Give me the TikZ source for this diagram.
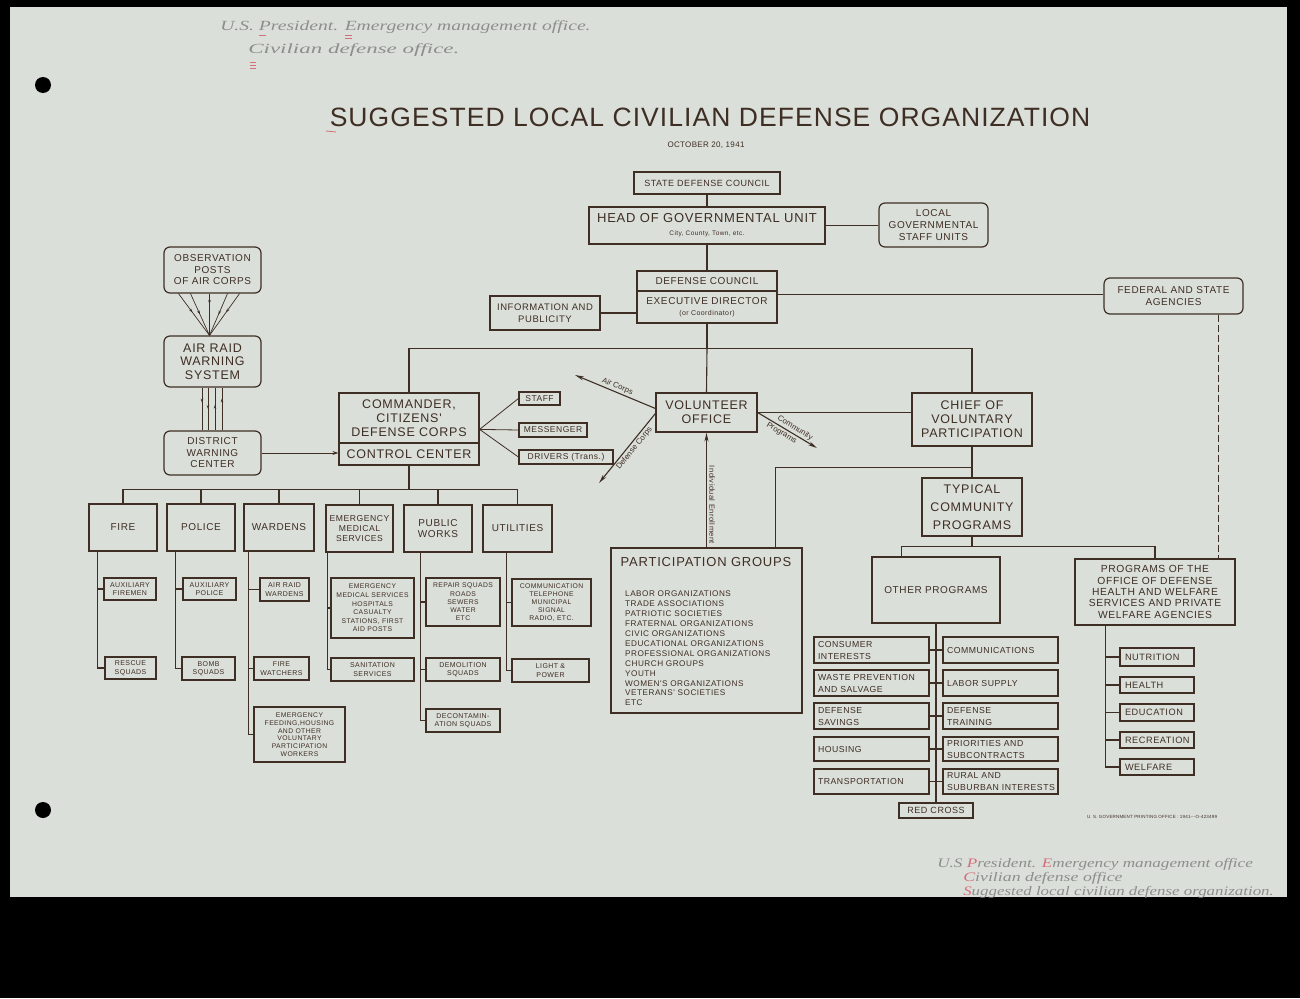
\documentclass[tikz,border=0pt]{standalone}
\usepackage{fontspec}
\setmainfont{Liberation Sans}
\newfontfamily\lett[LetterSpace=6]{Liberation Sans}
\newfontfamily\ttl[LetterSpace=4]{Liberation Sans}
\newfontfamily\plain{Liberation Sans}
\newfontfamily\hand{Liberation Serif}
\usetikzlibrary{arrows.meta,calc,decorations.markings}
\definecolor{paper}{RGB}{219,223,217}
\definecolor{ink}{RGB}{62,46,36}
\definecolor{pencil}{RGB}{140,142,140}
\definecolor{redpencil}{RGB}{214,110,122}
\newcommand{\fz}[2]{\lett\fontsize{#1}{#2}\selectfont}
\newcommand{\mybox}[7]{\node[#6, minimum width={#4-#2}, minimum height={#5-#3}] (#1) at ({(#2+#4)/2},{(#3+#5)/2}) {#7};}
\tikzset{
  box/.style={draw=ink, line width=1.2pt, fill=paper, inner sep=0pt, align=center, text=ink},
  rbox/.style={box, rounded corners=6pt},
  lbx/.style={box, align=left, inner xsep=4pt, text width=#1},
  ln/.style={draw=ink, line width=1.1pt},
  arr/.style={ln, -{Stealth[length=9pt,width=4pt]}},
  smallarr/.style={ln, -{Stealth[length=6pt,width=4pt]}},
  lbl/.style={text=ink, inner sep=1.5pt, font=\plain\fontsize{7.8}{8}\selectfont},
  midmark/.style={postaction={decorate}, decoration={markings, mark=at position #1 with {\arrow{Stealth[length=4pt,width=2.6pt]}}}},
  handw/.style={text=pencil, inner sep=0pt, anchor=west},
}
\begin{document}
\begin{tikzpicture}[x=1pt,y=-1pt]
\useasboundingbox (0,0) rectangle (1300,998);
\fill[black] (0,0) rectangle (1300,998);
\fill[paper] (10,7) rectangle (1287,897);
\fill[black] (43,85) circle (8);
\fill[black] (43,810) circle (8);

% handwriting
\node[handw, xscale=1.4, font=\hand\itshape\fontsize{14}{16}\selectfont] (hw1) at (220,27) {U.S. President. Emergency management office.};
\node[handw, xscale=1.64, font=\hand\itshape\fontsize{14}{16}\selectfont] (hw2) at (248,50) {Civilian defense office.};
\draw[redpencil, line width=0.8pt] (259,35) -- (266,35);
\draw[redpencil, line width=0.8pt] (345,35) -- (352,35) (345,38) -- (352,38);
\draw[redpencil, line width=0.8pt] (250,62) -- (256,62) (250,65) -- (256,65) (250,68) -- (256,68);
\node[handw, xscale=1.32, font=\hand\itshape\fontsize{13}{15}\selectfont] (hw3) at (937,864) {U.S \textcolor{redpencil}{P}resident. \textcolor{redpencil}{E}mergency management office};
\node[handw, xscale=1.37, font=\hand\itshape\fontsize{13}{15}\selectfont] (hw4) at (963,878) {\textcolor{redpencil}{C}ivilian defense office};
\node[handw, xscale=1.3, font=\hand\itshape\fontsize{13}{15}\selectfont] (hw5) at (963,892) {\textcolor{redpencil}{S}uggested local civilian defense organization.};

% title
\node[text=ink, inner sep=0pt, font=\ttl\fontsize{26.5}{30}\selectfont] (title) at (710,117) {SUGGESTED LOCAL CIVILIAN DEFENSE ORGANIZATION};
\draw[redpencil, line width=0.8pt] (326,131) -- (336,132);
\node[text=ink, inner sep=0pt, font=\ttl\fontsize{8}{9}\selectfont] (date) at (706,145) {OCTOBER 20, 1941};
\node[text=ink, inner sep=0pt, font=\ttl\fontsize{4.5}{5}\selectfont] (footer) at (1152,817) {U. S. GOVERNMENT PRINTING OFFICE : 1941---O-423499};

% top chain
\mybox{state}{634}{172}{780}{194}{box, font=\fz{9}{11}}{STATE DEFENSE COUNCIL}
\mybox{head}{589}{207}{825}{244}{box, font=\fz{13}{14}}{HEAD OF GOVERNMENTAL UNIT\\[-1pt]{\fz{6.5}{8}City, County, Town, etc.}}
\mybox{local}{879}{203}{988}{247}{rbox, font=\fz{10}{12}}{LOCAL\\GOVERNMENTAL\\STAFF UNITS}
\mybox{dc}{637}{271}{777}{291}{box, font=\fz{10}{12}}{DEFENSE COUNCIL}
\mybox{exec}{637}{291}{777}{323}{box, font=\fz{10}{11}}{EXECUTIVE DIRECTOR\\{\fz{7}{9}(or Coordinator)}}
\mybox{info}{490}{296}{600}{330}{box, font=\fz{9.5}{12}}{INFORMATION AND\\PUBLICITY}
\mybox{fed}{1104}{278}{1243}{314}{rbox, font=\fz{10}{12.5}}{FEDERAL AND STATE\\AGENCIES}

% left warning column
\mybox{obs}{164}{247}{261}{293}{rbox, font=\fz{10}{11.5}}{OBSERVATION\\POSTS\\OF AIR CORPS}
\mybox{air}{164}{336}{261}{387}{rbox, font=\fz{12.5}{13.5}}{AIR RAID\\WARNING\\SYSTEM}
\mybox{dist}{164}{431}{261}{475}{rbox, font=\fz{10}{11.5}}{DISTRICT\\WARNING\\CENTER}

% middle row
\mybox{cmdr}{339}{393}{479}{443}{box, font=\fz{12.5}{14}}{COMMANDER,\\CITIZENS'\\DEFENSE CORPS}
\mybox{ctrl}{339}{443}{479}{465}{box, font=\fz{12.5}{14}}{CONTROL CENTER}
\mybox{staff}{519}{392}{560}{405}{box, font=\fz{8.5}{10}}{STAFF}
\mybox{mess}{519}{423}{587}{437}{box, font=\fz{8.5}{10}}{MESSENGER}
\mybox{drv}{519}{450}{613}{464}{box, font=\fz{8.5}{10}}{DRIVERS (Trans.)}
\mybox{vol}{656}{393}{757}{432}{box, font=\fz{12.5}{14}}{VOLUNTEER\\OFFICE}
\mybox{chief}{912}{393}{1032}{446}{box, font=\fz{12.5}{14}}{CHIEF OF\\VOLUNTARY\\PARTICIPATION}
\mybox{typ}{922}{478}{1022}{536}{box, font=\fz{12.5}{18}}{TYPICAL\\COMMUNITY\\PROGRAMS}

% services row
\mybox{fire}{89}{504}{157}{551}{box, font=\fz{10}{12}}{FIRE}
\mybox{police}{167}{504}{235}{551}{box, font=\fz{10}{12}}{POLICE}
\mybox{wardens}{244}{504}{314}{551}{box, font=\fz{10}{12}}{WARDENS}
\mybox{ems}{326}{505}{393}{552}{box, font=\fz{8.6}{10}}{EMERGENCY\\MEDICAL\\SERVICES}
\mybox{pw}{404}{505}{472}{552}{box, font=\fz{10}{11.5}}{PUBLIC\\WORKS}
\mybox{util}{483}{505}{552}{552}{box, font=\fz{10}{12}}{UTILITIES}

% sub boxes
\mybox{auxf}{104}{578}{156}{600}{box, font=\fz{7}{8.5}}{AUXILIARY\\FIREMEN}
\mybox{rescue}{105}{657}{156}{679}{box, font=\fz{7}{8.5}}{RESCUE\\SQUADS}
\mybox{auxp}{183}{578}{236}{600}{box, font=\fz{7}{8.5}}{AUXILIARY\\POLICE}
\mybox{bomb}{182}{657}{235}{680}{box, font=\fz{7}{8.5}}{BOMB\\SQUADS}
\mybox{arw}{260}{578}{309}{601}{box, font=\fz{7}{8.5}}{AIR RAID\\WARDENS}
\mybox{firew}{254}{657}{309}{680}{box, font=\fz{7}{8.5}}{FIRE\\WATCHERS}
\mybox{feed}{254}{707}{345}{762}{box, font=\fz{6.8}{7.7}}{EMERGENCY\\FEEDING,HOUSING\\AND OTHER\\VOLUNTARY\\PARTICIPATION\\WORKERS}
\mybox{emsub}{331}{578}{414}{638}{box, font=\fz{6.8}{8.6}}{EMERGENCY\\MEDICAL SERVICES\\HOSPITALS\\CASUALTY\\STATIONS, FIRST\\AID POSTS}
\mybox{sanit}{331}{658}{414}{681}{box, font=\fz{7}{8.5}}{SANITATION\\SERVICES}
\mybox{repair}{426}{578}{500}{626}{box, font=\fz{6.8}{8.2}}{REPAIR SQUADS\\ROADS\\SEWERS\\WATER\\ETC}
\mybox{demol}{426}{658}{500}{681}{box, font=\fz{7}{8.5}}{DEMOLITION\\SQUADS}
\mybox{decon}{426}{709}{500}{732}{box, font=\fz{7}{8.5}}{DECONTAMIN-\\ATION SQUADS}
\mybox{commu}{512}{579}{591}{626}{box, font=\fz{6.8}{8.2}}{COMMUNICATION\\TELEPHONE\\MUNICIPAL\\SIGNAL\\RADIO, ETC.}
\mybox{light}{512}{659}{589}{682}{box, font=\fz{7}{8.5}}{LIGHT \&\\POWER}

% participation groups
\mybox{part}{611}{548}{802}{713}{box}{}
\node[text=ink, inner sep=0pt, font=\fz{13}{15}] (ptitle) at (706,562) {PARTICIPATION GROUPS};
\node[text=ink, inner sep=0pt, anchor=north west, align=left, font=\fz{8.2}{9.9}] (plist) at (625,591) {LABOR ORGANIZATIONS\\TRADE ASSOCIATIONS\\PATRIOTIC SOCIETIES\\FRATERNAL ORGANIZATIONS\\CIVIC ORGANIZATIONS\\EDUCATIONAL ORGANIZATIONS\\PROFESSIONAL ORGANIZATIONS\\CHURCH GROUPS\\YOUTH\\WOMEN'S ORGANIZATIONS\\VETERANS' SOCIETIES\\ETC};

% community programs
\mybox{op}{872}{557}{1000}{623}{box, font=\fz{10}{12}}{OTHER PROGRAMS}
\mybox{poff}{1075}{559}{1235}{625}{box, font=\fz{10.3}{11.3}}{PROGRAMS OF THE\\OFFICE OF DEFENSE\\HEALTH AND WELFARE\\SERVICES AND PRIVATE\\WELFARE AGENCIES}
\mybox{cons}{814}{637}{929}{663}{lbx=107pt, font=\fz{8.7}{12}}{CONSUMER\\INTERESTS}
\mybox{waste}{814}{670}{929}{696}{lbx=107pt, font=\fz{8.7}{12}}{WASTE PREVENTION\\AND SALVAGE}
\mybox{dsav}{814}{703}{929}{729}{lbx=107pt, font=\fz{8.7}{12}}{DEFENSE\\SAVINGS}
\mybox{hous}{814}{737}{929}{761}{lbx=107pt, font=\fz{8.7}{12}}{HOUSING}
\mybox{trans}{814}{769}{929}{794}{lbx=107pt, font=\fz{8.7}{12}}{TRANSPORTATION}
\mybox{comm}{943}{637}{1058}{663}{lbx=107pt, font=\fz{8.7}{12}}{COMMUNICATIONS}
\mybox{labor}{943}{670}{1058}{696}{lbx=107pt, font=\fz{8.7}{12}}{LABOR SUPPLY}
\mybox{dtrain}{943}{703}{1058}{729}{lbx=107pt, font=\fz{8.7}{12}}{DEFENSE\\TRAINING}
\mybox{prio}{943}{737}{1058}{761}{lbx=107pt, font=\fz{8.7}{12}}{PRIORITIES AND\\SUBCONTRACTS}
\mybox{rural}{943}{769}{1058}{794}{lbx=107pt, font=\fz{8.7}{12}}{RURAL AND\\SUBURBAN INTERESTS}
\mybox{red}{899}{803}{973}{818}{box, font=\fz{9}{10}}{RED CROSS}
\mybox{nutr}{1120}{648}{1194}{666}{lbx=64pt, inner xsep=5pt, font=\fz{9.2}{11}}{NUTRITION}
\mybox{health}{1120}{677}{1194}{693}{lbx=64pt, inner xsep=5pt, font=\fz{9.2}{11}}{HEALTH}
\mybox{edu}{1120}{704}{1194}{721}{lbx=64pt, inner xsep=5pt, font=\fz{9.2}{11}}{EDUCATION}
\mybox{rec}{1120}{732}{1194}{748}{lbx=64pt, inner xsep=5pt, font=\fz{9.2}{11}}{RECREATION}
\mybox{welf}{1120}{759}{1194}{775}{lbx=64pt, inner xsep=5pt, font=\fz{9.2}{11}}{WELFARE}

% ---------- connectors ----------
\draw[ln] (state.south) -- (head.north);
\draw[ln] (head.east) -- (head.east -| local.west);
\draw[ln] (head.south) -- (dc.north);
\draw[ln] (info.east) -- (info.east -| exec.west);
\coordinate (exR) at ($(exec.north east)+(0,4)$);
\draw[ln] (exR) -- (exR -| fed.west);
\coordinate (fd1) at ($(fed.south east)+(-25,0)$);
\draw[ln, dash pattern=on 7pt off 3pt, line width=0.9pt] (fd1) -- (fd1 |- poff.north);

\coordinate (b1) at ($(exec.south)+(0,25)$);
\draw[ln] (exec.south) -- (b1);
\draw[ln] (cmdr.north) |- (b1) -| (chief.north);
\draw[ln] (b1) -- (vol.north);
\draw[ln] (vol.east) -- (vol.east -| chief.west);

\coordinate (acE) at (575,375);
\coordinate (dcE) at (599,483);
\coordinate (cpE) at (817,448);
\draw[arr] ($(vol.west)+(0,-4)$) -- node[sloped, above, lbl] (lac) {Air Corps} (acE);
\draw[arr] ($(vol.west)+(0,1)$) -- node[sloped, below, lbl, pos=0.45] (ldc) {Defense Corps} (dcE);
\draw[arr] (vol.east) -- node[sloped, above, lbl, pos=0.58] (lcp1) {Community} node[sloped, below, lbl, pos=0.45] (lcp2) {Programs} (cpE);
\draw[arr] (part.north) -- (part.north |- vol.south);
\node[lbl, rotate=-90, font=\fz{7.5}{8}] (lie) at (712,505) {Individual Enrollment};

\coordinate (pj) at ($(part.north east)+(-27,0)$);
\coordinate (tj) at ($(chief.south)+(0,21)$);
\draw[ln] (pj) |- (tj);
\draw[ln] (chief.south) -- (typ.north);
\coordinate (b3) at ($(typ.south)+(0,10)$);
\draw[ln] (typ.south) -- (b3);
\coordinate (opin) at ($(op.north west)+(30,0)$);
\draw[ln] (opin) |- (b3) -| (poff.north);

\draw[ln] (op.south) -- (red.north);
\foreach \l/\r in {cons/comm, waste/labor, dsav/dtrain, hous/prio, trans/rural}
  \draw[ln] (\l.east) -- (\l.east -| \r.west);
\coordinate (os) at ($(poff.south west)+(31,0)$);
\foreach \n in {nutr,health,edu,rec,welf}
  \draw[ln] (os) |- (\n.west);

% commander
\coordinate (cf) at ($(ctrl.north east)+(0,-13)$);
\foreach \n in {staff,mess,drv}
  \draw[ln, line width=0.8pt] (cf) -- (\n.west);
\coordinate (b2) at ($(ctrl.south)+(0,24)$);
\draw[ln] (ctrl.south) -- (b2);
\foreach \n in {fire,police,wardens,ems,pw,util}
  \draw[ln] (b2) -| (\n.north);

\coordinate (fs) at ($(fire.south west)+(9,0)$);
\draw[ln] (fs) |- (auxf.west); \draw[ln] (fs) |- (rescue.west);
\coordinate (ps) at ($(police.south west)+(9,0)$);
\draw[ln] (ps) |- (auxp.west); \draw[ln] (ps) |- (bomb.west);
\coordinate (ws) at ($(wardens.south west)+(5,0)$);
\draw[ln] (ws) |- (arw.west); \draw[ln] (ws) |- (firew.west); \draw[ln] (ws) |- (feed.west);
\coordinate (es) at ($(ems.south west)+(2,0)$);
\draw[ln] (es) |- (emsub.west); \draw[ln] (es) |- (sanit.west);
\coordinate (pws) at ($(pw.south west)+(17,0)$);
\draw[ln] (pws) |- (repair.west); \draw[ln] (pws) |- (demol.west); \draw[ln] (pws) |- (decon.west);
\coordinate (us) at ($(util.south west)+(24,0)$);
\draw[ln] (us) |- (commu.west); \draw[ln] (us) |- (light.west);

% warning system
\coordinate (conv) at ($(air.north)+(-3,0)$);
\foreach \dx/\p in {-34/0.45,-22/0.5,-3/0.25,15/0.5,27/0.45}
  \draw[ln, line width=0.7pt, midmark=\p] ($(obs.south)+(\dx,0)$) -- (conv);
\foreach \dx/\p in {-10.5/0.35,-4.5/0.5}
  \draw[ln, line width=0.8pt, midmark=\p] ($(air.south)+(\dx,0)$) -- ($(dist.north)+(\dx,0)$);
\foreach \dx/\p in {2.5/0.6,9.5/0.75}
  \draw[ln, line width=0.8pt, midmark=\p] ($(dist.north)+(\dx,0)$) -- ($(air.south)+(\dx,0)$);
\draw[smallarr, line width=0.8pt] (dist.east) -- (dist.east -| ctrl.west);
\end{tikzpicture}
\end{document}
